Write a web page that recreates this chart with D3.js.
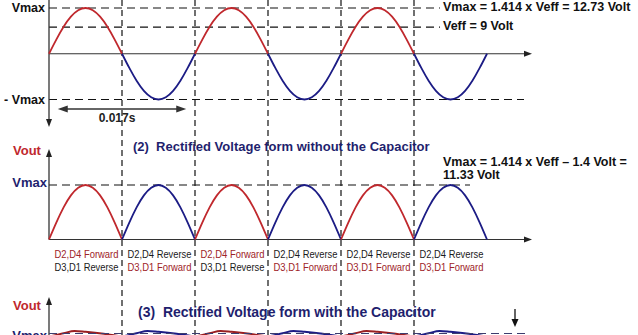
<!DOCTYPE html>
<html>
<head>
<meta charset="utf-8">
<script src="https://cdn.jsdelivr.net/npm/d3@7"></script>
<style>
body { margin: 0; background: #fff; }
svg { display: block; }
</style>
</head>
<body>
<div id="chart"></div>
<script>
// time in ms, voltages normalised to Vmax
var halfCycles = [0, 1, 2, 3, 4, 5];
var halfPeriod = 10;
var inputSign = [1, -1, 1, -1, 1, -1];

// shape of one half sine (fraction of half period -> fraction of Vmax)
var archT = [0, 0.1, 0.2, 0.3, 0.4, 0.5, 0.6, 0.7, 0.8, 0.9, 1];
var archV = [0, 0.31, 0.59, 0.81, 0.95, 1, 0.95, 0.81, 0.59, 0.31, 0];

// ripple with capacitor, one half period (only the tops show)
var capT = [0, 0.2, 0.35, 0.5, 0.75, 1];
var capV = [0.9, 0.96, 1, 0.985, 0.95, 0.9];

var veffLevel = 0.58;
var arrowSpan = [1.2, 18.8];

var d24Labels = ["D2,D4 Forward", "D2,D4 Reverse", "D2,D4 Forward", "D2,D4 Reverse", "D2,D4 Reverse", "D2,D4 Reverse"];
var d31Labels = ["D3,D1 Reverse", "D3,D1 Forward", "D3,D1 Reverse", "D3,D1 Forward", "D3,D1 Forward", "D3,D1 Forward"];

var width = 638;
var height = 335;
var red = "#c0282d";
var blue = "#1c1c85";
var navy = "#1f1f6e";
var font = "'Liberation Sans', Arial, sans-serif";
var axisEnd = 532;

var svg = d3.select("#chart").append("svg")
    .attr("width", width)
    .attr("height", height)
    .style("font-family", font);

var x = d3.scaleLinear().domain([0, 60]).range([49, 487]);
var yTop = d3.scaleLinear().domain([-1, 1]).range([99.5, 8]);
var yMid = d3.scaleLinear().domain([0, 1]).range([239.5, 185]);
var yBot = d3.scaleLinear().domain([0, 1]).range([387, 331]);

// draws a small filled triangle pointing in dir ("up","down","left","right")
function arrowHead(px, py, dir, len, half, color) {
    var pts;
    if (dir == "right") pts = [[px, py], [px - len, py - half], [px - len, py + half]];
    else if (dir == "left") pts = [[px, py], [px + len, py - half], [px + len, py + half]];
    else if (dir == "up") pts = [[px, py], [px - half, py + len], [px + half, py + len]];
    else pts = [[px, py], [px - half, py - len], [px + half, py - len]];
    svg.append("path")
        .attr("d", "M" + pts.join("L") + "Z")
        .attr("fill", color);
}

function hLine(x1, x2, y, dashed, color) {
    svg.append("line")
        .attr("x1", x1).attr("x2", x2)
        .attr("y1", y).attr("y2", y)
        .attr("stroke", color || "#111")
        .attr("stroke-width", 1.2)
        .attr("stroke-dasharray", dashed ? "8,5" : null);
}

function label(txt, px, py, size, color, anchor, weight) {
    return svg.append("text")
        .attr("x", px).attr("y", py)
        .attr("dy", "0.35em")
        .attr("text-anchor", anchor || "start")
        .attr("font-size", size)
        .attr("font-weight", weight || "bold")
        .attr("fill", color)
        .text(txt);
}

// vertical dashed separators at every zero crossing
svg.selectAll(".sep")
    .data(halfCycles.slice(1))
    .enter()
    .append("line")
    .attr("x1", function(d) { return x(d * halfPeriod); })
    .attr("x2", function(d) { return x(d * halfPeriod); })
    .attr("y1", 0)
    .attr("y2", height)
    .attr("stroke", "#111")
    .attr("stroke-width", 1.2)
    .attr("stroke-dasharray", "6,4");

// ---------- (1) input voltage ----------
hLine(x(0), 440, yTop(1), true);
hLine(x(0), 440, yTop(veffLevel), true);
hLine(x(0), 524, yTop(-1), true);

svg.append("line")
    .attr("x1", x(0)).attr("x2", x(0))
    .attr("y1", 0).attr("y2", 120)
    .attr("stroke", "#333").attr("stroke-width", 1.3);
arrowHead(x(0), 127, "down", 8, 3, "#222");

hLine(x(0), axisEnd - 6, yTop(0), false, "#333");
arrowHead(axisEnd, yTop(0), "right", 8, 3, "#222");

var archLine = function(scale, sign, start) {
    return d3.line()
        .x(function(d, i) { return x(start + archT[i] * halfPeriod); })
        .y(function(d) { return scale(d * sign); })
        .curve(d3.curveNatural)(archV);
};

svg.selectAll(".inWave")
    .data(halfCycles)
    .enter()
    .append("path")
    .attr("d", function(d) { return archLine(yTop, inputSign[d], d * halfPeriod); })
    .attr("fill", "none")
    .attr("stroke", function(d) { return inputSign[d] > 0 ? red : blue; })
    .attr("stroke-width", 1.8);

label("Vmax", 45, yTop(1), 12.5, "#111", "end");
label("- Vmax", 45, yTop(-1), 12.5, "#111", "end");
label("Vmax = 1.414 x Veff = 12.73 Volt", 443, 7, 12.5, "#111");
label("Veff = 9 Volt", 443, 26, 12.5, "#111");

// 0.017s period arrow
svg.append("line")
    .attr("x1", x(arrowSpan[0]) + 6).attr("x2", x(arrowSpan[1]) - 6)
    .attr("y1", 109).attr("y2", 109)
    .attr("stroke", "#333").attr("stroke-width", 1.3);
arrowHead(x(arrowSpan[0]), 109, "left", 10, 3.5, "#333");
arrowHead(x(arrowSpan[1]), 109, "right", 10, 3.5, "#333");
label("0.017s", 117, 118, 12, "#222", "middle");

// ---------- (2) rectified without capacitor ----------
hLine(x(0), 470, yMid(1), true);
svg.append("line")
    .attr("x1", x(0)).attr("x2", x(0))
    .attr("y1", 157).attr("y2", yMid(0))
    .attr("stroke", "#333").attr("stroke-width", 1.3);
arrowHead(x(0), 149, "up", 8, 3, "#222");
hLine(x(0), axisEnd - 6, yMid(0), false, "#333");
arrowHead(axisEnd, yMid(0), "right", 8, 3, "#222");

svg.selectAll(".rectWave")
    .data(halfCycles)
    .enter()
    .append("path")
    .attr("d", function(d) { return archLine(yMid, 1, d * halfPeriod); })
    .attr("fill", "none")
    .attr("stroke", function(d) { return d % 2 == 0 ? red : blue; })
    .attr("stroke-width", 1.8);

label("Vout", 13, 150, 13, red);
label("Vmax", 47, 182, 13, navy, "end");
label("(2)  Rectified Voltage form without the Capacitor", 133, 146, 13, navy).attr("xml:space", "preserve");
label("Vmax = 1.414 x Veff \u2013 1.4 Volt =", 443, 162, 12.5, "#111");
label("11.33 Volt", 443, 175, 12.5, "#111");

// diode state labels, squeezed like the narrow font of the original
halfCycles.forEach(function(i) {
    var cx = x(i * halfPeriod + halfPeriod / 2) + 1;
    label(d24Labels[i], cx, 254, 11.5, d24Labels[i].indexOf("Forward") > 0 ? "#9e2428" : "#1a1a1a", "middle", "normal")
        .attr("textLength", 64).attr("lengthAdjust", "spacingAndGlyphs");
    label(d31Labels[i], cx, 266.5, 11.5, d31Labels[i].indexOf("Forward") > 0 ? "#9e2428" : "#1a1a1a", "middle", "normal")
        .attr("textLength", 64).attr("lengthAdjust", "spacingAndGlyphs");
});

// ---------- (3) rectified with capacitor ----------
svg.append("line")
    .attr("x1", x(0)).attr("x2", x(0))
    .attr("y1", 305).attr("y2", height)
    .attr("stroke", "#333").attr("stroke-width", 1.3);
arrowHead(x(0), 297, "up", 8, 3, "#222");

svg.selectAll(".capWave")
    .data(halfCycles)
    .enter()
    .append("path")
    .attr("d", function(d) {
        return d3.line()
            .x(function(v, i) { return x(d * halfPeriod + capT[i] * halfPeriod); })
            .y(function(v) { return yBot(v); })
            .curve(d3.curveMonotoneX)(capV);
    })
    .attr("fill", "none")
    .attr("stroke", function(d) { return d % 2 == 0 ? "#9a1f22" : blue; })
    .attr("stroke-width", 2);

hLine(x(0), 525, 333.5, true, "#3c3c6e");

label("Vout", 13, 305, 13, red);
label("Vmax", 47, 335.5, 13, navy, "end");
label("(3)  Rectified Voltage form with the Capacitor", 138, 312, 14, navy).attr("xml:space", "preserve");

svg.append("line")
    .attr("x1", 515).attr("x2", 515)
    .attr("y1", 309).attr("y2", 320)
    .attr("stroke", "#111").attr("stroke-width", 1.3);
arrowHead(515, 327, "down", 8, 3.5, "#111");
</script>
</body>
</html>
